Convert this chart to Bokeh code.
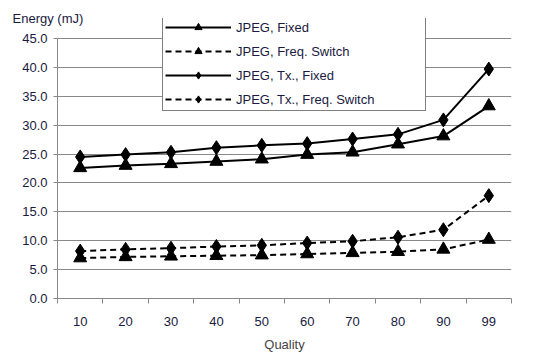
from bokeh.plotting import figure
from bokeh.models import Range1d, FixedTicker, Legend, LegendItem, Label
from bokeh.embed import file_html
from bokeh.resources import INLINE

categories = ["10", "20", "30", "40", "50", "60", "70", "80", "90", "99"]
jpeg_fixed = [22.6, 23.0, 23.3, 23.7, 24.1, 24.9, 25.3, 26.7, 28.1, 33.3]
jpeg_freq = [7.0, 7.2, 7.3, 7.4, 7.5, 7.7, 7.9, 8.1, 8.5, 10.2]
tx_fixed = [24.5, 24.9, 25.3, 26.1, 26.5, 26.8, 27.6, 28.4, 30.9, 39.7]
tx_freq = [8.2, 8.5, 8.7, 9.0, 9.2, 9.6, 9.9, 10.6, 11.9, 17.8]
y_ticks = [0, 5, 10, 15, 20, 25, 30, 35, 40, 45]

FONT = "Liberation Sans"
xs = list(range(len(categories)))

W, H = 542, 354
TOP = 18
p = figure(width=W, height=H, output_backend="svg", toolbar_location=None,
           x_range=Range1d(-0.5, len(categories) - 0.5),
           y_range=Range1d(0, 45 + (38 - TOP) / 5.8),
           min_border_left=57, min_border_right=31, min_border_top=TOP, min_border_bottom=55)
p.outline_line_color = None
p.background_fill_color = "white"
p.border_fill_color = "white"

# axes
p.xaxis.ticker = FixedTicker(ticks=xs, minor_ticks=[i - 0.5 for i in range(len(categories) + 1)])
p.xaxis.major_label_overrides = {i: c for i, c in enumerate(categories)}
p.xaxis.major_tick_line_color = None
p.xaxis.minor_tick_out = 5
p.xaxis.minor_tick_in = 0
p.xaxis.minor_tick_line_color = "#888888"
p.xaxis.axis_line_color = "#888888"
p.xaxis.major_label_standoff = 12
p.xaxis.axis_label = "Quality"
p.xaxis.axis_label_text_font = FONT
p.xaxis.axis_label_text_font_size = "13px"
p.xaxis.axis_label_text_font_style = "normal"
p.xaxis.axis_label_standoff = 8

p.yaxis.ticker = FixedTicker(ticks=y_ticks, minor_ticks=[])
p.yaxis.major_label_overrides = {t: f"{t:.1f}" for t in y_ticks}
p.yaxis.bounds = (0, 45)
p.yaxis.axis_line_color = "#888888"
p.yaxis.major_tick_line_color = "#888888"
p.yaxis.major_tick_out = 4
p.yaxis.major_tick_in = 0
p.yaxis.major_label_standoff = 6

for ax in (p.xaxis, p.yaxis):
    ax.major_label_text_font = FONT
    ax.major_label_text_font_size = "13px"
    ax.major_label_text_color = "#1a1a40"

p.xgrid.grid_line_color = None
p.ygrid.ticker = FixedTicker(ticks=y_ticks[1:])
p.ygrid.grid_line_color = "#888888"
p.ygrid.grid_line_width = 1

# series
series = [
    ("JPEG, Fixed", jpeg_fixed, "solid", "triangle"),
    ("JPEG, Freq. Switch", jpeg_freq, "6 4", "triangle"),
    ("JPEG, Tx., Fixed", tx_fixed, "solid", "diamond"),
    ("JPEG, Tx., Freq. Switch", tx_freq, "6 4", "diamond"),
]
items = []
for name, ys, dash, marker in series:
    r1 = p.line(xs, ys, line_color="black", line_width=2, line_dash=dash)
    r2 = p.scatter(xs, ys, marker=marker, size=13 if marker == "triangle" else 14,
                   fill_color="black", line_color="black")
    items.append(LegendItem(label=name, renderers=[r1, r2]))

legend = Legend(items=items, location=(105, 187))
legend.border_line_color = "black"
legend.border_line_width = 1
legend.background_fill_alpha = 1
legend.padding = 2
legend.spacing = 6
legend.glyph_width = 66
legend.glyph_height = 18
legend.label_height = 18
legend.label_width = 187
legend.label_standoff = 5
legend.margin = 0
legend.label_text_font = FONT
legend.label_text_font_size = "13px"
legend.label_text_color = "#1a1a40"
p.add_layout(legend, "center")

title = Label(x=-45, y=0, x_units="screen", y_units="screen", text="Energy (mJ)",
              text_font=FONT, text_font_size="13px", text_color="#1a1a40",
              text_baseline="middle")
p.add_layout(title, "above")

open("out.html", "w").write(file_html(p, INLINE))
